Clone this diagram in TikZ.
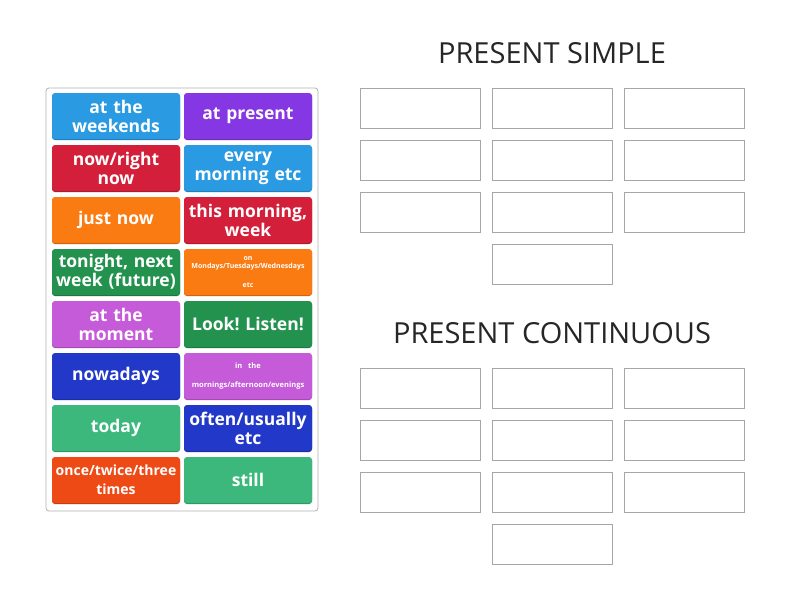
\documentclass[tikz,border=0pt]{standalone}
\usepackage{fontspec}
\setmainfont{Open Sans}
\frenchspacing
\definecolor{cblue}{HTML}{2A9BE3}
\definecolor{cpurple}{HTML}{8537E3}
\definecolor{cred}{HTML}{D41F3A}
\definecolor{corange}{HTML}{FA7B12}
\definecolor{cdgreen}{HTML}{23924E}
\definecolor{clpurple}{HTML}{C65BD9}
\definecolor{cdblue}{HTML}{2238C8}
\definecolor{cteal}{HTML}{3DB87D}
\definecolor{credor}{HTML}{EE4A16}
\begin{document}
\begin{tikzpicture}[x=1pt,y=-1pt,
  tile/.style={rounded corners=3pt,minimum width=128pt,minimum height=46pt,inner sep=1pt,
     font=\bfseries\fontsize{17.5}{19}\selectfont,text=white,align=center,text width=126pt},
  slot/.style={draw=black!35,line width=0.8pt,minimum width=120pt,minimum height=40pt,inner sep=0pt},
  title/.style={font=\fontsize{29}{32}\selectfont,text=black!85}]
\useasboundingbox (0,0) rectangle (800,600);
\fill[white] (0,0) rectangle (800,600);
\draw[black!30,rounded corners=3pt,line width=0.8pt] (46,88) rectangle (318,511);
\newcommand{\tl}[5]{%
  \fill[#4!80!black,rounded corners=3pt] (#2,#3) rectangle ++(128,46);
  \node[tile,fill=#4] (#1) at (#2+64,#3+22) {#5};}
\tl{a1}{52}{94}{cblue}{at the\\weekends}
\tl{b1}{184}{94}{cpurple}{at present}
\tl{a2}{52}{146}{cred}{now/right\\now}
\tl{b2}{184}{146}{cblue}{every\\morning etc}
\tl{a3}{52}{198}{corange}{just now}
\tl{b3}{184}{198}{cred}{this morning,\\week}
\tl{a4}{52}{250}{cdgreen}{tonight, next\\week (future)}
\tl{b4}{184}{250}{corange}{\fontsize{7}{8.5}\selectfont on\\Mondays/Tuesdays/Wednesdays\\etc}
\tl{a5}{52}{302}{clpurple}{at the\\moment}
\tl{b5}{184}{302}{cdgreen}{Look! Listen!}
\tl{a6}{52}{354}{cdblue}{nowadays}
\tl{b6}{184}{354}{clpurple}{\fontsize{7.5}{9}\selectfont in the\\mornings/afternoon/evenings}
\tl{a7}{52}{406}{cteal}{today}
\tl{b7}{184}{406}{cdblue}{often/usually\\etc}
\tl{a8}{52}{458}{credor}{\fontsize{14}{16}\selectfont once/twice/three\\times}
\tl{b8}{184}{458}{cteal}{still}
\node[title] (t1) at (552,53) {PRESENT SIMPLE};
\node[title] (t2) at (552,333) {PRESENT CONTINUOUS};
\foreach \r/\y in {1/108,2/160,3/212}{
  \foreach \c/\x in {1/420,2/552,3/684}{\node[slot] (s\r\c) at (\x,\y) {};}}
\node[slot] (s42) at (552,264) {};
\foreach \r/\y in {1/388,2/440,3/492}{
  \foreach \c/\x in {1/420,2/552,3/684}{\node[slot] (p\r\c) at (\x,\y) {};}}
\node[slot] (p42) at (552,544) {};
\end{tikzpicture}
\end{document}
